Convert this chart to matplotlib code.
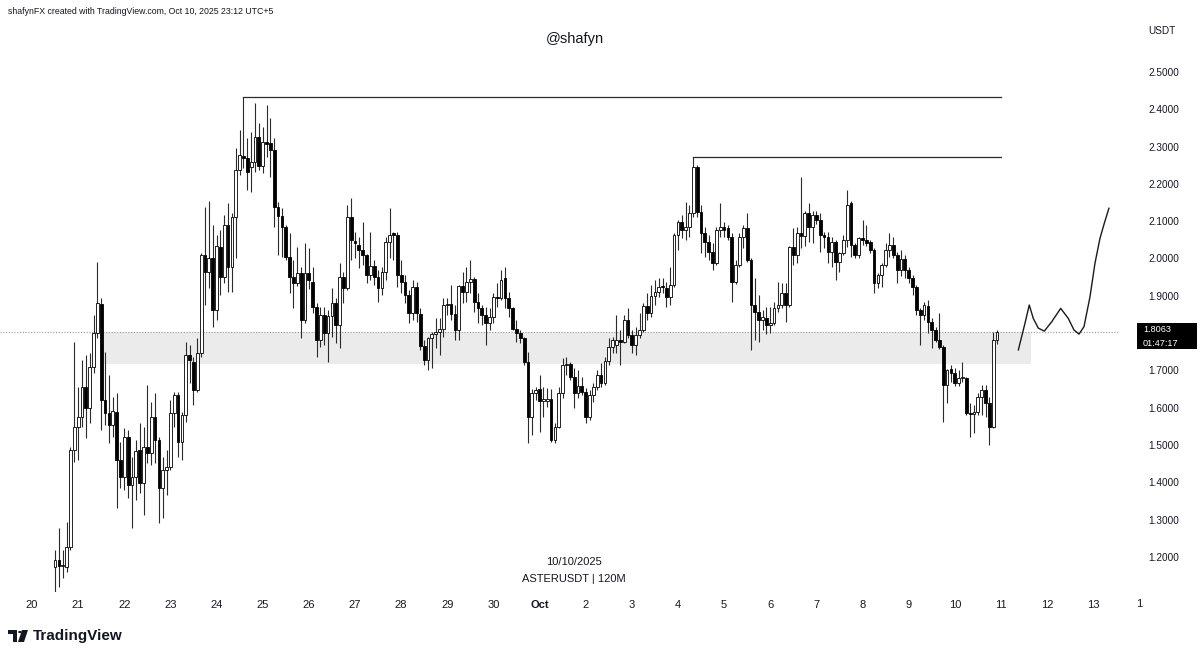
import matplotlib
matplotlib.use("Agg")
import matplotlib.pyplot as plt
import matplotlib.patches as mpatches
import numpy as np

# 2h candles of ASTERUSDT, first bar Sep 20 12:00
opens = [
    1.176, 1.194, 1.177, 1.176, 1.229, 1.489, 1.551, 1.578, 1.658, 1.602,
    1.712, 1.803, 1.881, 1.623, 1.588, 1.556, 1.591, 1.462, 1.417, 1.524,
    1.395, 1.417, 1.489, 1.400, 1.497, 1.480, 1.578, 1.516, 1.387, 1.436,
    1.444, 1.588, 1.637, 1.511, 1.583, 1.744, 1.725, 1.650, 1.749, 2.012,
    1.966, 2.004, 1.865, 2.033, 1.953, 2.092, 1.980, 2.114, 2.240, 2.278,
    2.272, 2.248, 2.261, 2.328, 2.250, 2.315, 2.312, 2.294, 2.141, 2.117,
    2.087, 2.007, 1.953, 1.937, 1.964, 1.838, 1.964, 1.940, 1.872, 1.784,
    1.851, 1.803, 1.849, 1.883, 1.824, 1.953, 1.924, 2.114, 2.050, 2.039,
    2.025, 2.012, 1.958, 1.982, 1.953, 1.924, 1.966, 2.047, 2.071, 2.066,
    1.958, 1.940, 1.905, 1.856, 1.926, 1.854, 1.768, 1.731, 1.790, 1.800,
    1.806, 1.814, 1.878, 1.881, 1.854, 1.811, 1.929, 1.913, 1.940, 1.948,
    1.886, 1.870, 1.851, 1.830, 1.846, 1.899, 1.897, 1.950, 1.897, 1.870,
    1.814, 1.803, 1.790, 1.725, 1.578, 1.642, 1.653, 1.620, 1.621, 1.626,
    1.516, 1.551, 1.642, 1.717, 1.720, 1.685, 1.642, 1.661, 1.645, 1.578,
    1.637, 1.658, 1.690, 1.669, 1.728, 1.765, 1.771, 1.784, 1.779, 1.838,
    1.798, 1.771, 1.798, 1.811, 1.875, 1.856, 1.902, 1.913, 1.929, 1.924,
    1.899, 1.932, 2.066, 2.100, 2.079, 2.087, 2.125, 2.248, 2.127, 2.071,
    2.047, 2.020, 1.991, 2.079, 2.087, 2.084, 2.060, 1.940, 1.985, 2.060,
    2.084, 1.999, 1.878, 1.859, 1.838, 1.843, 1.824, 1.830, 1.870, 1.878,
    1.910, 1.878, 2.033, 2.012, 2.071, 2.063, 2.125, 2.087, 2.119, 2.106,
    2.066, 2.060, 2.020, 2.047, 1.993, 2.017, 2.052, 2.151, 2.039, 2.012,
    2.057, 2.052, 2.047, 2.025, 1.937, 1.958, 1.985, 2.025, 2.039, 2.012,
    1.972, 2.001, 1.972, 1.950, 1.926, 1.865, 1.851, 1.875, 1.833, 1.811,
    1.784, 1.765, 1.664, 1.707, 1.696, 1.669, 1.682, 1.682, 1.588, 1.586,
    1.591, 1.631, 1.650, 1.616, 1.551, 1.784,
]
highs = [
    1.221, 1.280, 1.221, 1.296, 1.497, 1.779, 1.658, 1.731, 1.744, 1.750,
    1.851, 1.993, 1.897, 1.752, 1.690, 1.631, 1.642, 1.511, 1.548, 1.543,
    1.470, 1.516, 1.562, 1.551, 1.664, 1.618, 1.642, 1.524, 1.470, 1.489,
    1.623, 1.645, 1.645, 1.591, 1.779, 1.771, 1.739, 1.790, 2.017, 2.141,
    2.157, 2.092, 2.066, 2.079, 2.119, 2.151, 2.125, 2.299, 2.347, 2.436,
    2.326, 2.342, 2.420, 2.366, 2.355, 2.414, 2.379, 2.326, 2.154, 2.138,
    2.092, 2.071, 1.999, 2.033, 1.980, 2.044, 2.031, 1.980, 1.883, 1.872,
    1.872, 1.864, 1.924, 1.897, 1.991, 1.966, 2.146, 2.165, 2.074, 2.060,
    2.100, 2.015, 2.074, 1.999, 1.972, 1.980, 2.060, 2.138, 2.074, 2.074,
    1.999, 1.958, 1.918, 1.945, 1.940, 1.870, 1.784, 1.792, 1.806, 1.843,
    1.843, 1.897, 1.897, 1.932, 1.878, 1.932, 1.966, 1.980, 1.999, 1.953,
    1.910, 1.878, 1.872, 1.870, 1.910, 1.937, 1.972, 1.980, 1.913, 1.872,
    1.838, 1.811, 1.792, 1.752, 1.653, 1.658, 1.690, 1.658, 1.656, 1.653,
    1.562, 1.658, 1.736, 1.739, 1.725, 1.709, 1.704, 1.685, 1.656, 1.650,
    1.669, 1.704, 1.722, 1.739, 1.790, 1.792, 1.851, 1.811, 1.851, 1.870,
    1.811, 1.819, 1.856, 1.883, 1.910, 1.932, 1.945, 1.950, 1.950, 1.940,
    1.980, 2.071, 2.106, 2.119, 2.154, 2.146, 2.275, 2.253, 2.146, 2.087,
    2.066, 2.044, 2.087, 2.151, 2.100, 2.092, 2.071, 1.999, 2.071, 2.092,
    2.125, 2.004, 1.950, 1.905, 1.864, 1.872, 1.872, 1.886, 1.940, 1.937,
    1.937, 2.036, 2.084, 2.087, 2.221, 2.130, 2.151, 2.130, 2.130, 2.125,
    2.074, 2.074, 2.060, 2.052, 2.020, 2.065, 2.186, 2.156, 2.044, 2.060,
    2.106, 2.092, 2.052, 2.031, 1.964, 1.991, 2.044, 2.071, 2.060, 2.020,
    2.025, 2.012, 1.980, 1.958, 1.932, 1.870, 1.886, 1.891, 1.843, 1.819,
    1.856, 1.771, 1.707, 1.717, 1.709, 1.704, 1.725, 1.685, 1.616, 1.610,
    1.642, 1.664, 1.664, 1.632, 1.806, 1.811,
]
lows = [
    1.106, 1.122, 1.146, 1.162, 1.220, 1.457, 1.462, 1.551, 1.521, 1.562,
    1.696, 1.790, 1.543, 1.556, 1.508, 1.524, 1.334, 1.387, 1.382, 1.360,
    1.280, 1.355, 1.374, 1.315, 1.454, 1.449, 1.454, 1.293, 1.307, 1.369,
    1.436, 1.551, 1.470, 1.462, 1.564, 1.669, 1.610, 1.645, 1.739, 1.878,
    1.924, 1.819, 1.838, 1.905, 1.937, 1.913, 1.913, 2.004, 2.227, 2.245,
    2.186, 2.181, 2.235, 2.240, 2.232, 2.275, 2.221, 2.087, 2.012, 2.007,
    1.999, 1.910, 1.870, 1.930, 1.790, 1.830, 1.920, 1.856, 1.739, 1.765,
    1.771, 1.725, 1.792, 1.776, 1.763, 1.883, 1.918, 1.999, 2.004, 1.977,
    1.985, 1.937, 1.945, 1.932, 1.886, 1.905, 1.945, 2.004, 2.000, 1.926,
    1.910, 1.883, 1.830, 1.838, 1.833, 1.757, 1.717, 1.704, 1.709, 1.763,
    1.744, 1.792, 1.851, 1.838, 1.784, 1.784, 1.883, 1.886, 1.910, 1.859,
    1.830, 1.824, 1.771, 1.811, 1.830, 1.872, 1.891, 1.870, 1.846, 1.811,
    1.779, 1.776, 1.717, 1.508, 1.530, 1.623, 1.538, 1.578, 1.605, 1.511,
    1.508, 1.548, 1.629, 1.690, 1.677, 1.602, 1.629, 1.637, 1.562, 1.570,
    1.618, 1.650, 1.658, 1.664, 1.717, 1.749, 1.749, 1.717, 1.776, 1.790,
    1.749, 1.744, 1.790, 1.806, 1.838, 1.846, 1.878, 1.899, 1.910, 1.872,
    1.878, 1.926, 2.025, 2.057, 2.052, 2.060, 2.114, 2.114, 2.017, 2.007,
    2.000, 1.972, 1.985, 2.060, 2.060, 2.052, 1.886, 1.935, 1.980, 2.030,
    1.993, 1.757, 1.784, 1.779, 1.811, 1.800, 1.803, 1.824, 1.859, 1.870,
    1.833, 1.872, 1.985, 1.991, 2.031, 2.036, 2.047, 2.044, 2.095, 2.020,
    2.031, 1.991, 1.980, 1.945, 1.966, 2.012, 2.033, 2.007, 2.004, 2.004,
    2.039, 2.036, 2.017, 1.910, 1.924, 1.926, 1.980, 2.007, 2.004, 1.937,
    1.955, 1.950, 1.937, 1.905, 1.851, 1.771, 1.838, 1.803, 1.763, 1.779,
    1.760, 1.564, 1.616, 1.672, 1.661, 1.661, 1.672, 1.583, 1.524, 1.535,
    1.583, 1.583, 1.578, 1.503, 1.549, 1.774,
]
closes = [
    1.194, 1.178, 1.182, 1.229, 1.489, 1.551, 1.578, 1.658, 1.602, 1.712,
    1.803, 1.883, 1.623, 1.588, 1.556, 1.594, 1.462, 1.417, 1.524, 1.395,
    1.417, 1.487, 1.400, 1.497, 1.480, 1.578, 1.516, 1.387, 1.436, 1.444,
    1.588, 1.637, 1.511, 1.583, 1.744, 1.731, 1.650, 1.749, 2.012, 1.966,
    2.004, 1.865, 2.036, 1.953, 2.092, 1.980, 2.114, 2.240, 2.280, 2.272,
    2.235, 2.261, 2.328, 2.250, 2.315, 2.310, 2.294, 2.141, 2.117, 2.087,
    2.007, 1.953, 1.937, 1.964, 1.838, 1.964, 1.945, 1.872, 1.784, 1.851,
    1.803, 1.849, 1.883, 1.824, 1.953, 1.924, 2.114, 2.052, 2.044, 2.025,
    2.012, 1.958, 1.982, 1.953, 1.924, 1.966, 2.047, 2.066, 2.066, 1.958,
    1.940, 1.905, 1.856, 1.926, 1.856, 1.768, 1.731, 1.790, 1.800, 1.806,
    1.814, 1.878, 1.881, 1.854, 1.811, 1.929, 1.913, 1.940, 1.948, 1.886,
    1.870, 1.851, 1.830, 1.846, 1.899, 1.897, 1.945, 1.897, 1.870, 1.814,
    1.803, 1.790, 1.725, 1.578, 1.642, 1.650, 1.621, 1.626, 1.626, 1.516,
    1.551, 1.642, 1.717, 1.720, 1.685, 1.642, 1.661, 1.645, 1.578, 1.637,
    1.658, 1.690, 1.669, 1.728, 1.765, 1.784, 1.784, 1.779, 1.838, 1.798,
    1.771, 1.798, 1.811, 1.875, 1.856, 1.902, 1.913, 1.926, 1.926, 1.899,
    1.932, 2.066, 2.100, 2.079, 2.087, 2.125, 2.248, 2.127, 2.071, 2.047,
    2.020, 1.991, 2.079, 2.087, 2.079, 2.060, 1.940, 1.985, 2.060, 2.084,
    1.999, 1.878, 1.859, 1.838, 1.846, 1.824, 1.830, 1.870, 1.878, 1.910,
    1.878, 2.033, 2.012, 2.071, 2.063, 2.125, 2.087, 2.119, 2.106, 2.066,
    2.060, 2.020, 2.047, 1.993, 2.017, 2.052, 2.146, 2.039, 2.012, 2.057,
    2.052, 2.044, 2.025, 1.937, 1.958, 1.985, 2.025, 2.039, 2.012, 1.972,
    2.001, 1.972, 1.950, 1.926, 1.865, 1.851, 1.878, 1.833, 1.811, 1.784,
    1.765, 1.664, 1.704, 1.696, 1.669, 1.682, 1.685, 1.588, 1.586, 1.591,
    1.631, 1.650, 1.616, 1.551, 1.784, 1.806,
]
first_bar_hour = 12      # hours after Sep 20 00:00
bar_hours = 2

# drawn annotations (x in days after Sep 20 00:00)
zone_low, zone_high = 1.720, 1.806
zone_start, zone_end = 1.47, 21.65
last_price = 1.8063
countdown = '01:47:17'
high_levels = [2.436, 2.275]
level_starts = [4.583, 14.333]
level_end = 21.0
path_days = [21.376, 21.521, 21.614, 21.701, 21.810, 21.940, 22.100, 22.295,
             22.460, 22.583, 22.692, 22.800, 22.930, 23.038, 23.147, 23.240, 23.342]
path_prices = [1.757, 1.829, 1.878, 1.842, 1.816, 1.808, 1.833, 1.869,
               1.842, 1.811, 1.800, 1.820, 1.900, 1.990, 2.057, 2.097, 2.138]

day_labels = ['20', '21', '22', '23', '24', '25', '26', '27', '28', '29', '30', 'Oct',
              '2', '3', '4', '5', '6', '7', '8', '9', '10', '11', '12', '13']
next_label = '1'   # partly hidden label under the price scale
price_ticks = [1.2, 1.3, 1.4, 1.5, 1.6, 1.7, 1.8, 1.9, 2.0, 2.1, 2.2, 2.3, 2.4, 2.5]

plt.rcParams['font.family'] = ['Liberation Sans', 'DejaVu Sans']

W, H = 1199, 658
fig = plt.figure(figsize=(W / 100, H / 100), dpi=100)
fig.patch.set_facecolor('white')
pane_right, pane_bottom = 1118, 592
ax = fig.add_axes([0, (H - pane_bottom) / H, pane_right / W, pane_bottom / H])

px_day = 46.14
o = np.array(opens)
h = np.array(highs)
l = np.array(lows)
c = np.array(closes)
t = (first_bar_hour + bar_hours * np.arange(len(o))) / 24.0


def price_to_px(p):
    return 73 + (2.5 - p) * 373


# zone + last price line
ax.add_patch(mpatches.Rectangle((zone_start, zone_low), zone_end - zone_start,
                                zone_high - zone_low, facecolor='#ebebeb',
                                edgecolor='none', zorder=0))
ax.axhline(last_price, color='#9a9a9a', lw=0.8, ls=(0, (1, 1.5)), zorder=1)

# candles
up = c >= o
ax.vlines(t, np.minimum(l, np.minimum(o, c)), np.maximum(h, np.maximum(o, c)),
          color='#2b2b2b', lw=0.8, zorder=2)
body_lo = np.minimum(o, c)
body_h = np.maximum(np.abs(c - o), 0.003)
ax.bar(t, body_h, bottom=body_lo, width=0.06,
       color=np.where(up, 'white', 'black'), edgecolor='black', linewidth=0.6, zorder=3)

# swing-high rays
for lv, st in zip(high_levels, level_starts):
    ax.plot([st, level_end], [lv, lv], color='#2b2b2b', lw=0.9, zorder=4)

# projected path
ax.plot(path_days, path_prices, color='#1a1a1a', lw=1.0, zorder=4,
        solid_capstyle='round', solid_joinstyle='round')

for s in ax.spines.values():
    s.set_visible(False)
ax.set_xticks(np.arange(len(day_labels)))
ax.set_xticklabels(day_labels, fontsize=8, color='#131722')
for lab in ax.get_xticklabels():
    if lab.get_text() == 'Oct':
        lab.set_fontweight('bold')
ax.tick_params(axis='x', length=0, pad=6)
ax.set_yticks([])
ax.set_xlim(-32 / px_day, (pane_right - 32) / px_day)
ax.set_ylim(2.5 - (pane_bottom - 73) / 373, 2.5 + 73 / 373)
ax.patch.set_alpha(0)

fig.text((32 + 24 * px_day) / W, 1 - 604 / H, next_label, fontsize=8, color='#131722',
         ha='center', va='center')

# last price tag (hides the scale label underneath it)
tag_top, tag_bottom = 323, 349
fig.patches.append(mpatches.Rectangle((1137 / W, 1 - tag_bottom / H), 60 / W,
                                      (tag_bottom - tag_top) / H,
                                      transform=fig.transFigure, facecolor='black',
                                      edgecolor='none', zorder=5))
fig.text(1143 / W, 1 - 329 / H, f'{last_price:.4f}', fontsize=6.6, color='white',
         ha='left', va='center', zorder=6)
fig.text(1143 / W, 1 - 343 / H, countdown, fontsize=6.6, color='white',
         ha='left', va='center', zorder=6)

# price scale on the right
for p in price_ticks:
    y = price_to_px(p)
    if tag_top - 8 < y < tag_bottom + 8:
        continue
    fig.text(1148 / W, 1 - y / H, f'{p:.4f}', fontsize=7.2, color='#131722',
             ha='left', va='center')
fig.text(1148 / W, 1 - 31 / H, 'USDT', fontsize=7.2, color='#131722', ha='left', va='center')

# header / watermark texts
fig.text(8 / W, 1 - 11 / H, 'shafynFX created with TradingView.com, Oct 10, 2025 23:12 UTC+5',
         fontsize=6.3, color='#131722', ha='left', va='center')
fig.text(575 / W, 1 - 39 / H, '@shafyn', fontsize=10.5, color='#131722', ha='center', va='center')
fig.text(574 / W, 1 - 562 / H, '10/10/2025', fontsize=8, color='#131722', ha='center', va='center')
fig.text(574 / W, 1 - 579 / H, 'ASTERUSDT | 120M', fontsize=8, color='#131722',
         ha='center', va='center')

# TradingView logo
fig.patches.append(mpatches.Polygon([(8 / W, 1 - 630 / H), (17 / W, 1 - 630 / H),
                                     (17 / W, 1 - 642 / H), (13 / W, 1 - 642 / H),
                                     (13 / W, 1 - 634 / H), (8 / W, 1 - 634 / H)],
                                    closed=True, transform=fig.transFigure,
                                    facecolor='#131722', edgecolor='none'))
fig.patches.append(mpatches.Circle((20 / W, 1 - 632 / H), 1.9 / W,
                                   transform=fig.transFigure, facecolor='#131722'))
fig.patches.append(mpatches.Polygon([(22 / W, 1 - 630 / H), (28 / W, 1 - 630 / H),
                                     (24 / W, 1 - 642 / H), (18 / W, 1 - 642 / H)],
                                    closed=True, transform=fig.transFigure,
                                    facecolor='#131722', edgecolor='none'))
fig.text(33 / W, 1 - 636 / H, 'TradingView', fontsize=11, fontweight='bold',
         color='#131722', ha='left', va='center')

fig.savefig('out.png', dpi=100)
